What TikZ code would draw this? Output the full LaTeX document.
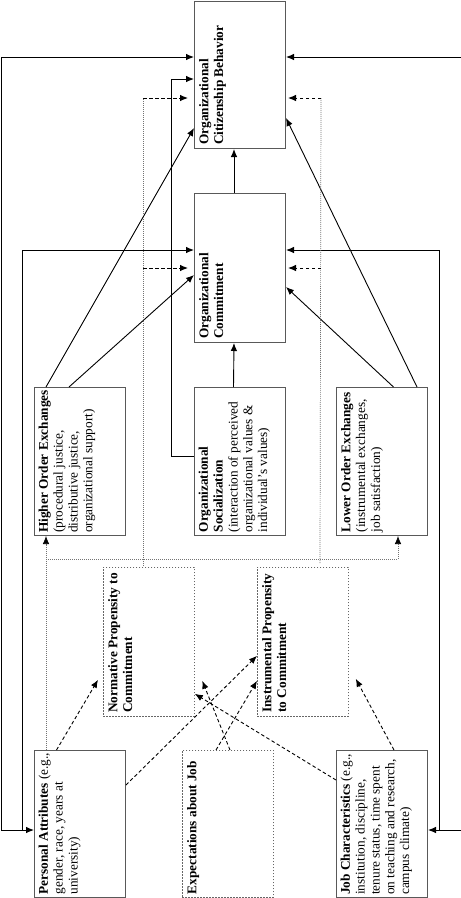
\documentclass[tikz,border=0pt]{standalone}
\usepackage{fontspec}
\setmainfont{Liberation Serif}
\usetikzlibrary{arrows.meta,calc}
\begin{document}
\begin{tikzpicture}[x=1pt,y=-1pt,
  box/.style={draw=black!65,line width=1pt,inner sep=0pt,minimum width=91pt,anchor=north west},
  dbox/.style={box,draw=black!60,line width=0.8pt,dash pattern=on 1.6pt off 1.4pt},
  lbl/.style={rotate=90,align=left,inner sep=0pt,anchor=north west,font=\fontsize{13.3}{14.8}\selectfont},
  arr/.style={-{Latex[length=8pt,width=6.5pt]},line width=0.9pt},
  biarr/.style={{Latex[length=8pt,width=6.5pt]}-{Latex[length=8pt,width=6.5pt]},line width=0.9pt},
  darr/.style={arr,dash pattern=on 3.5pt off 2.5pt},
  dline/.style={draw=black!55,line width=0.7pt,dash pattern=on 1pt off 1pt},
  dlarr/.style={dline,-{Latex[length=8pt,width=6.5pt,color=black]}},
]
\useasboundingbox (0,0) rectangle (461,898);

% boxes
\node[box,minimum height=147pt] (ocb) at (194,1) {};
\node[box,minimum height=149pt] (oc) at (194,193) {};
\node[box,minimum height=148pt] (hoe) at (34,387) {};
\node[box,minimum height=148pt] (os) at (193.5,387) {};
\node[box,minimum height=148pt] (loe) at (336,387) {};
\node[dbox,minimum height=149pt] (norm) at (103,567) {};
\node[dbox,minimum height=149pt] (inst) at (257,567) {};
\node[box,minimum height=147pt] (pa) at (34,750) {};
\node[dbox,minimum height=147pt] (exp) at (182,750) {};
\node[box,minimum height=147pt] (jc) at (336,750) {};

% labels
\node[lbl] (ocbT) at ($(ocb.south west)+(5,-4)$) {\textbf{Organizational}\\\textbf{Citizenship Behavior}};
\node[lbl] (ocT) at ($(oc.south west)+(5,-4)$) {\textbf{Organizational}\\\textbf{Commitment}};
\node[lbl] (hoeT) at ($(hoe.south west)+(4.5,-3)$) {\textbf{Higher Order Exchanges}\\(procedural justice,\\distributive justice,\\organizational support)};
\node[lbl] (osT) at ($(os.south west)+(5,-3.5)$) {\textbf{Organizational}\\\textbf{Socialization}\\(interaction of perceived\\organizational values \&\\individual’s values)};
\node[lbl] (loeT) at ($(loe.south west)+(5,-3.5)$) {\textbf{Lower Order Exchanges}\\(instrumental exchanges,\\job satisfaction)};
\node[lbl] (normT) at ($(norm.south west)+(5,-4)$) {\textbf{Normative Propensity to}\\\textbf{Commitment}};
\node[lbl] (instT) at ($(inst.south west)+(5,-4)$) {\textbf{Instrumental Propensity}\\\textbf{to Commitment}};
\node[lbl] (paT) at ($(pa.south west)+(4.5,-3.5)$) {\textbf{Personal Attributes} (e.g.,\\gender, race, years at\\university)};
\node[lbl] (expT) at ($(exp.south west)+(5,-3.5)$) {\textbf{Expectations about Job}};
\node[lbl] (jcT) at ($(jc.south west)+(4.5,-3)$) {\textbf{Job Characteristics} (e.g.,\\institution, discipline,\\tenure status, time spent\\on teaching and research,\\campus climate)};

% solid connectors
\draw[arr] ($(oc.north)+(-6,0)$) -- ($(ocb.south)+(-6,0)$);
\draw[arr] ($(os.north)+(-6,0)$) -- ($(oc.south)+(-6,0)$);
\draw[arr] ($(hoe.north west)+(12,0)$) -- ($(ocb.south west)+(0,-21)$);
\draw[arr] ($(hoe.north west)+(35,0)$) -- ($(oc.south west)+(0,-68)$);
\draw[arr] ($(loe.north east)+(-11,0)$) -- ($(ocb.south east)+(0,-31)$);
\draw[arr] ($(loe.north east)+(-34.5,0)$) -- ($(oc.south east)+(0,-56)$);
\draw[biarr] ($(ocb.north west)+(0,56)$) -| ($(pa.south west)+(-33,-68)$) -- ($(pa.south west)+(0,-68)$);
\draw[arr] ($(pa.south west)+(-11.5,-68)$) |- ($(oc.north west)+(0,57)$);
\draw[biarr] ($(ocb.north east)+(0,56)$) -| ($(jc.south east)+(33,-68)$) -- ($(jc.south east)+(0,-68)$);
\draw[arr] ($(jc.south east)+(11,-68)$) |- ($(oc.north east)+(0,57)$);
\draw[arr] ($(os.south west)+(0,-80)$) -- ++(-22.5,0) |- ($(ocb.north west)+(0,78)$);

% propensity feeds (dotted risers, dashed arrows)
\draw[dline] ($(norm.north west)+(40,-1)$) -- ($(ocb.north west)+(-51,97)$);
\draw[darr] ($(ocb.north west)+(-51,97)$) -- ($(ocb.north west)+(-6,97)$);
\draw[darr] ($(oc.north west)+(-51,75)$) -- ($(oc.north west)+(-6,75)$);
\draw[dline] ($(inst.north west)+(63,-4)$) -- ($(ocb.north east)+(35,97)$);
\draw[darr] ($(ocb.north east)+(35,97)$) -- ($(ocb.north east)+(2,97)$);
\draw[darr] ($(oc.north east)+(35,75)$) -- ($(oc.north east)+(2,75)$);

% personal attributes to exchanges (dotted)
\draw[dlarr] ($(pa.north west)+(12,0)$) -- ($(hoe.south west)+(12,0)$);
\draw[dlarr] ($(hoe.south west)+(12,23)$) -| ($(loe.south west)+(62,0)$);

% dashed arrows from bottom row
\draw[darr] ($(pa.north west)+(22.5,0)$) -- ($(norm.south west)+(-5,-37)$);
\draw[darr] ($(pa.north east)+(0,35)$) -- ($(inst.south west)+(0,-61)$);
\draw[darr] ($(exp.north west)+(48,0)$) -- ($(norm.south east)+(7.5,-36)$);
\draw[darr] ($(exp.north west)+(34,0)$) -- ($(inst.south west)+(0,-36)$);
\draw[darr] ($(jc.north west)+(0,30)$) -- ($(norm.south east)+(0,-23)$);
\draw[darr] ($(jc.north west)+(58,0)$) -- ($(inst.south east)+(7,-38)$);
\end{tikzpicture}
\end{document}
